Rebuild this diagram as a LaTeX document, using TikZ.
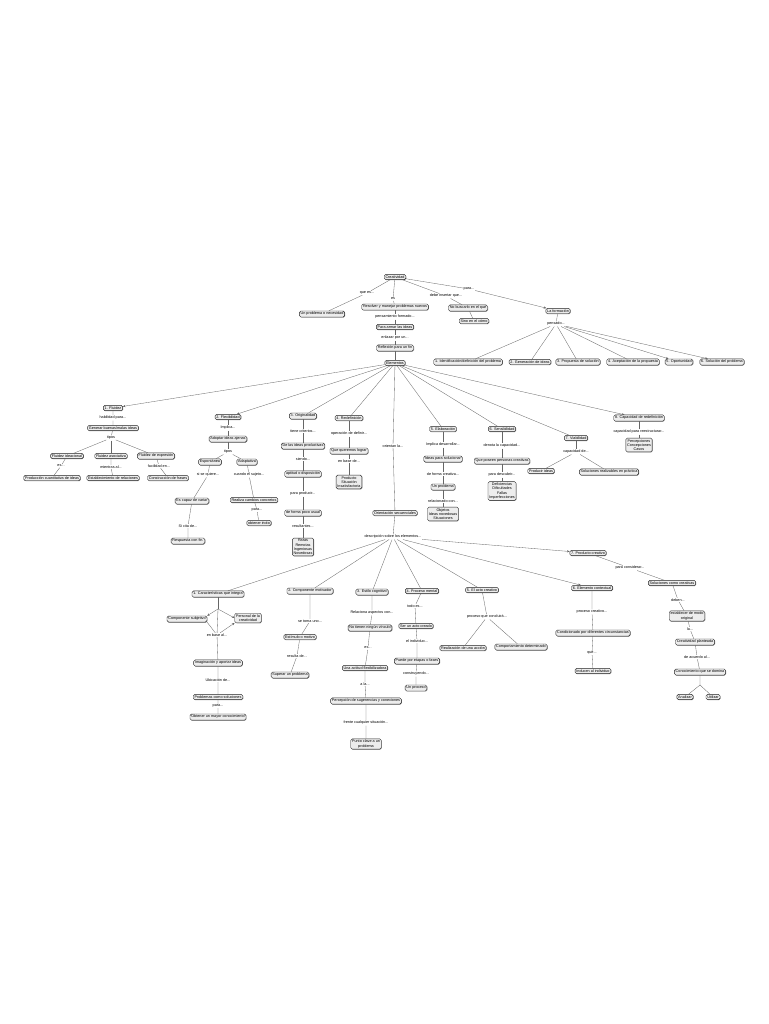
\documentclass[tikz,border=0pt]{standalone}
\usepackage{fontspec}
\newfontfamily\cmf{Liberation Sans}
\newcommand\cmfont{\cmf\fontsize{3.75}{4.2}\selectfont}
\usetikzlibrary{arrows.meta,shadows}
\tikzset{
 concept/.style={draw=black!85, fill=gray!14, rounded corners=1.5pt, inner sep=1.3pt, line width=0.4pt, font=\cmfont, align=center,
   drop shadow={shadow xshift=0.5pt, shadow yshift=-0.5pt, fill=black!45, opacity=1}},
 lnk/.style={font=\cmfont, inner sep=0.6pt, align=center},
 edge/.style={draw=black!60, line width=0.32pt},
 arr/.style={edge, -{Stealth[length=2.6pt,width=2.2pt]}}
}
\begin{document}
\begin{tikzpicture}[x=1pt,y=-1pt]
\fill[white] (0,0) rectangle (768,1024);
\useasboundingbox (0,0) rectangle (768,1024);
% top
\node[concept] (crea) at (395,277) {Creatividad};
\node[lnk] (l1) at (367,293) {que es...};
\node[lnk] (l2) at (393,299) {es};
\node[lnk] (l3) at (446,296) {debe insertar que...};
\node[lnk] (l4) at (469,289) {para...};
\node[concept] (prob) at (322,314) {Un problema o necesidad};
\node[concept] (resol) at (395,307) {Resolver y manejar problemas nuevos};
\node[concept] (nobus) at (468,308) {No buscarlo en el qué};
\node[concept] (sino) at (474,321) {Sino en el cómo};
\node[concept] (form) at (558,311) {La formación};
\node[lnk] (l5) at (395,317) {pensamiento formado...};
\node[concept] (armar) at (395,327) {Para armar las ideas};
\node[lnk] (l6) at (395,338) {enlazar por un...};
\node[concept] (refl) at (395,348) {Reflexión para un fin};
\node[concept] (elem) at (395,363) {Elementos};
\node[lnk] (l7) at (556,324) {pensado...};
\node[concept] (f1) at (468,362) {1. Identificación/definición del problema};
\node[concept] (f2) at (530,362) {2. Generación de ideas};
\node[concept] (f3) at (578,362) {3. Propuesta de solución};
\node[concept] (f4) at (633,362) {4. Aceptación de la propuesta};
\node[concept] (f5) at (679,362) {5. Oportunidad};
\node[concept] (f6) at (722,362) {6. Solución del problema};
\draw[edge] (crea) -- (l1) -- (prob);
\draw[edge] (crea) -- (l2) -- (resol);
\draw[edge] (crea) -- (l3) -- (nobus);
\draw[edge] (crea) -- (l4);
\draw[arr] (l4) -- (form);
\draw[edge] (nobus) -- (sino);
\draw[edge] (resol) -- (l5) -- (armar) -- (l6) -- (refl) -- (elem);
\draw[edge] (form) -- (l7);
\draw[edge] (l7) -- (f1); \draw[edge] (l7) -- (f2); \draw[edge] (l7) -- (f3); \draw[edge] (l7) -- (f4);
\draw[arr] (l7) -- (f5); \draw[arr] (l7) -- (f6);
% elements
\node[concept] (e1) at (113,408) {1. Fluidez};
\node[concept] (e2) at (228,417) {2. Flexibilidad};
\node[concept] (e3) at (303,416) {3. Originalidad};
\node[concept] (e4) at (349,418) {4. Redefinición};
\node[concept] (e5) at (443,429) {5. Elaboración};
\node[concept] (e6) at (502,429) {6. Sensibilidad};
\node[concept] (e7) at (576,438) {7. Viabilidad};
\node[concept] (e8) at (639,418) {8. Capacidad de redefinición};
\node[lnk] (lc) at (393,446) {orientan la...};
\draw[arr] (elem) -- (e1); \draw[arr] (elem) -- (e2);
\draw[edge] (elem) -- (e3); \draw[edge] (elem) -- (e4); \draw[edge] (elem) -- (e5);
\draw[edge] (elem) -- (e6); \draw[edge] (elem) -- (e7); \draw[arr] (elem) -- (e8);
% branch 1
\node[lnk] (a1) at (113,418) {habilidad para...};
\node[concept] (gen) at (113,428) {Generar buenas/malas ideas};
\node[lnk] (a2) at (111,438) {tipos};
\node[concept] (fi) at (67,456) {Fluidez ideacional};
\node[concept] (fa) at (111,456) {Fluidez asociativa};
\node[concept] (fe) at (156,456) {Fluidez de expresión};
\node[lnk] (a3) at (61,466) {es...};
\node[lnk] (a4) at (111,467) {mientras al...};
\node[lnk] (a5) at (159,466) {facilidad en...};
\node[concept] (pc) at (52,478) {Producción cuantitativa de ideas};
\node[concept] (er) at (113,478) {Establecimiento de relaciones};
\node[concept] (cf) at (168,478) {Construcción de frases};
\draw[edge] (e1) -- (a1) -- (gen) -- (a2);
\draw[edge] (a2) -- (fi); \draw[edge] (a2) -- (fa); \draw[edge] (a2) -- (fe);
\draw[edge] (fi) -- (a3) -- (pc);
\draw[edge] (fa) -- (a4) -- (er);
\draw[edge] (fe) -- (a5) -- (cf);
% branch 2
\node[lnk] (b1) at (228,428) {Implica...};
\node[concept] (ad) at (228,439) {Adoptar ideas ajenas};
\node[lnk] (b2) at (228,452) {tipos};
\node[concept] (esp) at (210,462) {Espontánea};
\node[concept] (ada) at (247,462) {Adaptativa};
\node[lnk] (b3) at (208,475) {si se quiere...};
\node[lnk] (b5) at (249,475) {cuando el sujeto...};
\node[concept] (ecv) at (192,501) {Es capaz de variar};
\node[concept] (rcc) at (254,500) {Realiza cambios concretos};
\node[lnk] (b4) at (188,526) {Si cita de...};
\node[concept] (rf) at (188,541) {Respuesta con fin.};
\node[lnk] (b6) at (257,510) {para...};
\node[concept] (oe) at (259,523) {obtener éxito};
\draw[edge] (e2) -- (b1) -- (ad) -- (b2);
\draw[edge] (b2) -- (esp); \draw[edge] (b2) -- (ada);
\draw[edge] (esp) -- (b3) -- (ecv) -- (b4) -- (rf);
\draw[edge] (ada) -- (b5) -- (rcc) -- (b6) -- (oe);
% branch 3
\node[lnk] (c1) at (303,431) {tiene criterios...};
\node[concept] (dip) at (303,446) {De las ideas productivas};
\node[lnk] (c2) at (303,459) {siendo...};
\node[concept] (apt) at (303,474) {aptitud o disposición};
\node[lnk] (c3) at (303,494) {para producir...};
\node[concept] (dfp) at (303,513) {de forma poco usual};
\node[lnk] (c4) at (303,526) {resultantes...};
\node[concept] (rar) at (303,547) {Raras\\Remotas\\Ingeniosas\\Novedosas};
\draw[edge] (e3) -- (c1) -- (dip) -- (c2) -- (apt) -- (c3) -- (dfp) -- (c4) -- (rar);
% branch 4
\node[lnk] (d1) at (349,434) {operación de definir...};
\node[concept] (qql) at (349,451) {Que queremos lograr};
\node[lnk] (d2) at (349,461) {en base de...};
\node[concept] (psi) at (349,482) {Producto\\Situación\\Insatisfactoria};
\draw[edge] (e4) -- (d1) -- (qql) -- (d2) -- (psi);
% branch 5
\node[lnk] (g1) at (443,445) {Implica desarrollar...};
\node[concept] (ips) at (443,459) {Ideas para solucionar};
\node[lnk] (g2) at (443,474) {de forma creativa...};
\node[concept] (unp) at (443,487) {Un problema};
\node[lnk] (g3) at (443,501) {relacionado con...};
\node[concept] (obj) at (443,514) {Objetos\\Ideas novedosas\\Situaciones};
\draw[edge] (e5) -- (g1) -- (ips) -- (g2) -- (unp) -- (g3) -- (obj);
% branch 6
\node[lnk] (h1) at (502,446) {denota la capacidad...};
\node[concept] (qpp) at (502,461) {Que poseen personas creativas};
\node[lnk] (h2) at (502,475) {para descubrir...};
\node[concept] (def) at (502,491) {Deficiencias\\Dificultades\\Fallas\\Imperfecciones};
\draw[edge] (e6) -- (h1) -- (qpp) -- (h2) -- (def);
% branch 7
\node[lnk] (i1) at (576,452) {capacidad de...};
\node[concept] (pi) at (541,471) {Producir ideas};
\node[concept] (srp) at (609,472) {Soluciones realizables en práctica};
\draw[edge] (e7) -- (i1); \draw[edge] (i1) -- (pi); \draw[edge] (i1) -- (srp);
% branch 8
\node[lnk] (j1) at (639,432) {capacidad para reestructurar...};
\node[concept] (pcc) at (639,445) {Percepciones\\Concepciones\\Casos};
\draw[edge] (e8) -- (j1) -- (pcc);
% center
\node[concept] (ors) at (395,513) {Orientación secuenciales};
\node[lnk] (k1) at (393,537) {descripción sobre los elementos...};
\draw[edge] (elem) -- (lc) -- (ors) -- (k1);
% lower
\node[concept] (m1) at (218,594) {1. Características que integra};
\node[concept] (m2) at (310,591) {2. Componente motivador};
\node[concept] (m3) at (372,592) {3. Estilo cognitivo};
\node[concept] (m4) at (422,591) {4. Proceso mental};
\node[concept] (m5) at (482,590) {5. El acto creativo};
\node[concept] (m6) at (592,588) {6. Elemento contextual};
\node[concept] (m7) at (588,553) {7. Producto creativo};
\draw[edge] (k1) -- (m1); \draw[edge] (k1) -- (m2); \draw[edge] (k1) -- (m3);
\draw[edge] (k1) -- (m4); \draw[edge] (k1) -- (m5);
\draw[arr] (k1) -- (m6); \draw[arr] (k1) -- (m7);
% lower 1
\coordinate (sp1) at (218,609);
\node[concept] (cs) at (187,619) {Componente subjetivo};
\node[concept] (pc2) at (248,618) {Personal de la\\creatividad};
\node[lnk] (n1) at (217,635) {en base al...};
\node[concept] (img) at (218,663) {Imaginación y aportar ideas};
\node[lnk] (n2) at (218,680) {Ubicación de...};
\node[concept] (pcs) at (218,697) {Problemas como soluciones};
\node[lnk] (n3) at (218,706) {para...};
\node[concept] (omc) at (218,717) {Obtener un mayor conocimiento};
\draw[edge] (m1) -- (sp1);
\draw[arr] (sp1) -- (cs.north east);
\draw[arr] (sp1) -- (pc2.west);
\draw[edge] (sp1) -- (n1);
\draw[edge] (cs.south east) -- (n1);
\draw[arr] (n1) -- (pc2.south west);
\draw[edge] (n1) -- (img) -- (n2) -- (pcs) -- (n3) -- (omc);
% lower 2
\node[lnk] (o1) at (310,621) {se toma uno...};
\node[concept] (eom) at (300,637) {Estímulo o motivo};
\node[lnk] (o2) at (297,656) {resulta de...};
\node[concept] (sup) at (290,675) {Superar un problema};
\draw[edge] (m2) -- (o1) -- (eom) -- (o2) -- (sup);
% lower 3
\node[lnk] (p1) at (372,613) {Relaciona aspectos con...};
\node[concept] (ntv) at (370,628) {No tienen ningún vínculo};
\node[lnk] (p2) at (368,648) {es...};
\node[concept] (uaf) at (365,668) {Una actitud flexibilizadora};
\node[lnk] (p3) at (365,684) {a la...};
\node[concept] (psc) at (366,701) {Percepción de sugerencias y conexiones};
\node[lnk] (p4) at (366,723) {frente cualquier situación...};
\node[concept] (pca) at (366,744) {Punto clave a un\\problema};
\draw[edge] (m3) -- (p1) -- (ntv) -- (p2) -- (uaf) -- (p3) -- (psc) -- (p4) -- (pca);
% lower 4
\node[lnk] (q1) at (415,606) {todo es...};
\node[concept] (sac) at (416,626) {Ser un acto creado};
\node[lnk] (q2) at (417,641) {el individuo...};
\node[concept] (pef) at (417,661) {Puede por etapas o fases};
\node[lnk] (q3) at (416,674) {construyendo...};
\node[concept] (upr) at (416,688) {Un proceso};
\draw[edge] (m4) -- (q1) -- (sac) -- (q2) -- (pef) -- (q3) -- (upr);
% lower 5
\node[lnk] (r1) at (487,617) {proceso que concluirá...};
\node[concept] (rua) at (463,648) {Realización de una acción};
\node[concept] (cod) at (521,647) {Comportamiento determinado};
\draw[edge] (m5) -- (r1); \draw[edge] (r1) -- (rua); \draw[edge] (r1) -- (cod);
% lower 6
\node[lnk] (s1) at (592,612) {proceso creativo...};
\node[concept] (cdc) at (593,633) {Condicionado por diferentes circunstancias};
\node[lnk] (s2) at (592,653) {que...};
\node[concept] (iai) at (593,671) {Inducen al individuo};
\draw[edge] (m6) -- (s1) -- (cdc) -- (s2) -- (iai);
% lower 7
\node[lnk] (t1) at (630,568) {para considerar...};
\node[concept] (scc) at (672,583) {Soluciones como creativas};
\node[lnk] (t2) at (678,600) {deben...};
\node[concept] (edm) at (687,616) {establecer de modo\\original};
\node[lnk] (t3) at (690,629) {la...};
\node[concept] (cpl) at (695,642) {Creatividad planteada};
\node[lnk] (t4) at (697,657) {de acuerdo al...};
\node[concept] (cqd) at (700,672) {Conocimiento que se domina};
\coordinate (sp2) at (700,685);
\node[concept] (ana) at (685,697) {Analizar};
\node[concept] (uti) at (713,697) {Utilizar};
\draw[edge] (m7) -- (t1) -- (scc) -- (t2) -- (edm) -- (t3) -- (cpl) -- (t4) -- (cqd) -- (sp2);
\draw[edge] (sp2) -- (ana); \draw[edge] (sp2) -- (uti);
\end{tikzpicture}
\end{document}
